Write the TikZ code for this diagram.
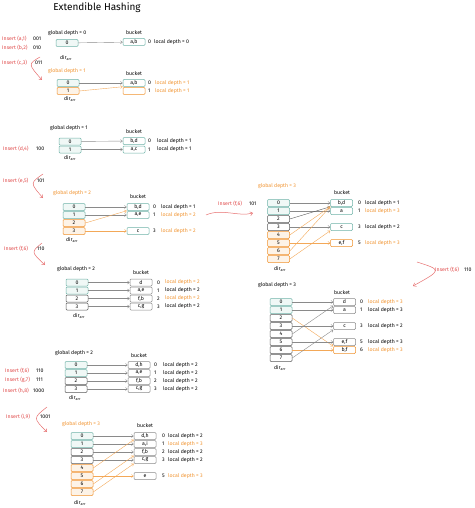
\documentclass[tikz,border=0pt]{standalone}
\usepackage{fontspec}
\setmainfont{Fira Sans}
\usetikzlibrary{arrows.meta}
\definecolor{dirteal}{HTML}{6FB3A8}
\definecolor{dirfill}{HTML}{F0F8F6}
\definecolor{neworange}{HTML}{F0922E}
\definecolor{newfill}{HTML}{FDF3E7}
\definecolor{insred}{HTML}{E04B4B}
\definecolor{ptrgray}{HTML}{8A8A8A}
\definecolor{olddark}{HTML}{5A5A5A}
\begin{document}
\begin{tikzpicture}[x=1pt,y=-1pt,
  every node/.style={inner sep=0pt, font=\fontsize{5.2}{6}\selectfont},
  txt/.style={anchor=west},
  ins/.style={anchor=west, color=insred},
  new/.style={anchor=west, color=neworange},
  dirbox/.style={draw=dirteal, fill=dirfill, rounded corners=1pt, minimum width=22pt, minimum height=7pt, line width=0.5pt},
  dirnew/.style={dirbox, draw=neworange, fill=newfill},
  dirold/.style={dirbox, draw=olddark, fill=white},
  bucket/.style={dirbox, fill=white},
  bucketold/.style={dirbox, draw=ptrgray, fill=white},
  bucketnew/.style={dirbox, draw=neworange, fill=white},
  ptr/.style={draw=ptrgray, line width=0.4pt, -{Straight Barb[length=2pt,width=3pt]}},
  ptrnew/.style={ptr, draw=neworange!80},
  ptrold/.style={ptr, draw=olddark},
  flow/.style={draw=insred!80, line width=0.5pt, -{Straight Barb[length=2.5pt,width=4pt]}}]
  \useasboundingbox (0,0) rectangle (474,508);
  \node[font=\fontsize{10}{11}\selectfont] (title) at (97,8) {Extendible Hashing};
  % step 1
  \node[txt] (G1) at (48,33) {global depth = 0};
  \node[ins] (I1a) at (2,39) {Insert (a,1)};
  \node[txt] (K1a) at (33,39) {001};
  \node[ins] (I1b) at (2,48) {Insert (b,2)};
  \node[txt] (K1b) at (33,48) {010};
  \node[dirbox] (D10) at (67,43) {0};
  \node (R1) at (66,58) {dir\textsubscript{arr}};
  \node (T1) at (134,33) {bucket};
  \node[bucket] (B10) at (134,42) {a,b};
  \node[txt] (N10) at (148,42) {0};
  \node[txt] (L10) at (154,42) {local depth = 0};
  \draw[ptr] (D10) -- (B10);
  % step 2
  \node[ins] (I2) at (2,63) {Insert (c,3)};
  \node[txt] (K2) at (35,63) {011};
  \coordinate (F2a) at (40,57);
  \coordinate (F2b) at (42,80);
  \draw[flow] (F2a) .. controls (28,64) .. (F2b);
  \node[new] (G2) at (48,71) {global depth = 1};
  \node[dirbox] (D20) at (68,83) {0};
  \node[dirnew] (D21) at (68,91) {1};
  \node (R2) at (70,99) {dir\textsubscript{arr}};
  \node (T2) at (134,74) {bucket};
  \node[bucket] (B20) at (134,83) {a,b};
  \node[bucketnew] (B21) at (134,91) {};
  \node[txt] (N20) at (148,83) {0};
  \node[new] (L20) at (155,83) {local depth = 1};
  \node[txt] (N21) at (148,91) {1};
  \node[new] (L21) at (155,91) {local depth = 1};
  \draw[ptr] (D20) -- (B20);
  \draw[ptrnew] (D21.east) -- (B20.south west);
  % step 3
  \node[txt] (G3) at (50,128) {global depth = 1};
  \node[ins] (I3) at (3,149) {Insert (d,4)};
  \node[txt] (K3) at (36,149) {100};
  \node[dirbox] (D30) at (70,141.5) {0};
  \node[dirbox] (D31) at (70,149.5) {1};
  \node (R3) at (70,158) {dir\textsubscript{arr}};
  \node (T3) at (134,132) {bucket};
  \node[bucket] (B30) at (134,141) {b,d};
  \node[bucket] (B31) at (134,149.5) {a,c};
  \node[txt] (N30) at (148,141) {0};
  \node[txt] (L30) at (157,141) {local depth = 1};
  \node[txt] (N31) at (148,149.5) {1};
  \node[txt] (L31) at (157,149.5) {local depth = 1};
  \draw[ptr] (D30) -- (B30);
  \draw[ptr] (D31) -- (B31);
  % step 4
  \node[ins] (I4) at (3,181) {Insert (e,5)};
  \node[txt] (K4) at (37,181) {101};
  \coordinate (F4a) at (43,174);
  \coordinate (F4b) at (43,198);
  \draw[flow] (F4a) .. controls (30,183) .. (F4b);
  \node[new] (G4) at (53,193) {global depth = 2};
  \node (T4) at (138,197) {bucket};
  \node[dirbox] (D40) at (74,207) {0};
  \node[dirbox] (D41) at (74,215) {1};
  \node[dirnew] (D42) at (74,223) {2};
  \node[dirnew] (D43) at (74,231) {3};
  \node (R4) at (72,240) {dir\textsubscript{arr}};
  \node[bucket] (B40) at (138,207) {b,d};
  \node[bucket] (B41) at (138,215) {a,e};
  \node[bucket] (B43) at (138,231) {c};
  \node[txt] (N40) at (153,207) {0};
  \node[txt] (L40) at (161,207) {local depth = 1};
  \node[txt] (N41) at (153,215) {1};
  \node[new] (L41) at (161,215) {local depth = 2};
  \node[txt] (N43) at (153,231) {3};
  \node[new] (L43) at (161,231) {local depth = 2};
  \draw[ptr] (D40) -- (B40);
  \draw[ptr] (D41) -- (B41);
  \draw[ptrnew] (D42.east) -- (B40.south west);
  \draw[ptrnew] (D43) -- (B43);
  % step 5
  \node[ins] (I5) at (4,249) {Insert (f,6)};
  \node[txt] (K5) at (37,249) {110};
  \coordinate (F5a) at (42,243);
  \coordinate (F5b) at (45,265);
  \draw[flow] (F5a) .. controls (31,252) .. (F5b);
  \node[txt] (G5) at (57,269) {global depth = 2};
  \node (T5) at (141,273) {bucket};
  \node[dirbox] (D50) at (77,282.5) {0};
  \node[dirbox] (D51) at (77,290.5) {1};
  \node[dirold] (D52) at (77,298.5) {2};
  \node[dirold] (D53) at (77,306.5) {3};
  \node (R5) at (79,316) {dir\textsubscript{arr}};
  \node[bucketold] (B50) at (141,282.5) {d};
  \node[bucketold] (B51) at (141,290.5) {a,e};
  \node[bucketold] (B52) at (141,298.5) {f,b};
  \node[bucketold] (B53) at (141,306.5) {c,g};
  \node[txt] (N50) at (157,282.5) {0};
  \node[new] (L50) at (165,282.5) {local depth = 2};
  \node[txt] (N51) at (157,290.5) {1};
  \node[txt] (L51) at (165,290.5) {local depth = 2};
  \node[txt] (N52) at (157,298.5) {2};
  \node[new] (L52) at (165,298.5) {local depth = 2};
  \node[txt] (N53) at (157,306.5) {3};
  \node[txt] (L53) at (165,306.5) {local depth = 2};
  \draw[ptr] (D50) -- (B50);
  \draw[ptr] (D51) -- (B51);
  \draw[ptr] (D52) -- (B52);
  \draw[ptr] (D53) -- (B53);
  % step 6
  \node[txt] (G6) at (55,353) {global depth = 2};
  \node[ins] (I6a) at (5,371) {Insert (f,6)};
  \node[txt] (K6a) at (36,371) {110};
  \node[ins] (I6b) at (5,380) {Insert (g,7)};
  \node[txt] (K6b) at (36,380) {111};
  \node[ins] (I6c) at (3,391) {Insert (h,8)};
  \node[txt] (K6c) at (33,391) {1000};
  \node (T6) at (139,356) {bucket};
  \node[dirbox] (D60) at (76,365) {0};
  \node[dirbox] (D61) at (76,373) {1};
  \node[dirold] (D62) at (76,381) {2};
  \node[dirold] (D63) at (76,389) {3};
  \node (R6) at (75,398) {dir\textsubscript{arr}};
  \node[bucketold] (B60) at (139,365) {d,h};
  \node[bucketold] (B61) at (139,373) {a,e};
  \node[bucketold] (B62) at (139,381) {f,b};
  \node[bucketold] (B63) at (139,389) {c,g};
  \node[txt] (N60) at (154,365) {0};
  \node[txt] (L60) at (163,365) {local depth = 2};
  \node[txt] (N61) at (154,373) {1};
  \node[txt] (L61) at (163,373) {local depth = 2};
  \node[txt] (N62) at (154,381) {2};
  \node[txt] (L62) at (163,381) {local depth = 2};
  \node[txt] (N63) at (154,389) {3};
  \node[txt] (L63) at (163,389) {local depth = 2};
  \draw[ptr] (D60) -- (B60);
  \draw[ptr] (D61) -- (B61);
  \draw[ptr] (D62) -- (B62);
  \draw[ptr] (D63) -- (B63);
  % step 7
  \node[ins] (I7) at (6,417) {Insert (i,9)};
  \node[txt] (K7) at (40,417) {1001};
  \coordinate (F7a) at (47,407);
  \coordinate (F7b) at (47,432);
  \draw[flow] (F7a) .. controls (33,418) .. (F7b);
  \node[new] (G7) at (62,424) {global depth = 3};
  \node (T7) at (145,426) {bucket};
  \node[dirbox] (D70) at (82,436) {0};
  \node[dirbox] (D71) at (82,444) {1};
  \node[dirold] (D72) at (82,452) {2};
  \node[dirold] (D73) at (82,460) {3};
  \node[dirnew] (D74) at (82,468) {4};
  \node[dirnew] (D75) at (82,476) {5};
  \node[dirnew] (D76) at (82,484) {6};
  \node[dirnew] (D77) at (82,492) {7};
  \node (R7) at (80,503) {dir\textsubscript{arr}};
  \node[bucketold] (B70) at (145,436) {d,h};
  \node[bucketold] (B71) at (145,444) {a,i};
  \node[bucketold] (B72) at (145,452) {f,b};
  \node[bucketold] (B73) at (145,460) {c,g};
  \node[bucketold] (B75) at (145,476) {e};
  \node[txt] (N70) at (162,436) {0};
  \node[txt] (L70) at (168,436) {local depth = 2};
  \node[txt] (N71) at (162,444) {1};
  \node[new] (L71) at (168,444) {local depth = 3};
  \node[txt] (N72) at (162,452) {2};
  \node[txt] (L72) at (168,452) {local depth = 2};
  \node[txt] (N73) at (162,460) {3};
  \node[txt] (L73) at (168,460) {local depth = 2};
  \node[txt] (N75) at (162,476) {5};
  \node[new] (L75) at (168,476) {local depth = 3};
  \draw[ptr] (D70) -- (B70);
  \draw[ptr] (D71) -- (B71);
  \draw[ptr] (D72) -- (B72);
  \draw[ptr] (D73) -- (B73);
  \draw[ptrnew] (D74.east) -- (B70.south west);
  \draw[ptrnew] (D75) -- (B75);
  \draw[ptrnew] (D76.east) -- (B72.south west);
  \draw[ptrnew] (D77.east) -- (B73.south west);
  % right, step 8
  \node[ins] (I8) at (218,204) {Insert (f,6)};
  \node[txt] (K8) at (249,204) {101};
  \coordinate (F8a) at (206,215);
  \coordinate (F8b) at (253,213);
  \draw[flow] (F8a) .. controls (222,208) and (238,217) .. (F8b);
  \node[new] (G8) at (258,186) {global depth = 3};
  \node (T8) at (342,193) {bucket};
  \node[dirbox] (D80) at (278.5,203) {0};
  \node[dirbox] (D81) at (278.5,211) {1};
  \node[dirold] (D82) at (278.5,219) {2};
  \node[dirold] (D83) at (278.5,227) {3};
  \node[dirnew] (D84) at (278.5,235) {4};
  \node[dirnew] (D85) at (278.5,243) {5};
  \node[dirnew] (D86) at (278.5,251) {6};
  \node[dirnew] (D87) at (278.5,259) {7};
  \node (R8) at (280,269) {dir\textsubscript{arr}};
  \node[bucket] (B80) at (341.5,203) {b,d};
  \node[bucket] (B81) at (341.5,211) {a};
  \node[bucket] (B83) at (341.5,227) {c};
  \node[bucketnew] (B85) at (341.5,243) {e,f};
  \node[txt] (N80) at (358,203) {0};
  \node[txt] (L80) at (365,203) {local depth = 1};
  \node[txt] (N81) at (358,211) {1};
  \node[new] (L81) at (365,211) {local depth = 3};
  \node[txt] (N83) at (358,227) {3};
  \node[txt] (L83) at (365,227) {local depth = 2};
  \node[txt] (N85) at (358,243) {5};
  \node[new] (L85) at (365,243) {local depth = 3};
  \draw[ptr] (D80) -- (B80);
  \draw[ptr] (D81) -- (B81);
  \draw[ptrold] (D82.east) -- (B80.south west);
  \draw[ptr] (D83) -- (B83);
  \draw[ptrnew] (D84.east) -- (B80.south west);
  \draw[ptrnew] (D85) -- (B85);
  \draw[ptrnew] (D86.east) -- (B80.south west);
  \draw[ptrnew] (D87.east) -- (B83.south west);
  % right, step 9
  \coordinate (F9a) at (417,262);
  \coordinate (F9b) at (413,286);
  \draw[flow] (F9a) .. controls (442,270) .. (F9b);
  \node[ins] (I9) at (435,270) {Insert (f,6)};
  \node[txt] (K9) at (464,270) {110};
  \node[txt] (G9) at (258,285) {global depth = 3};
  \node (T9) at (342,293) {bucket};
  \node[dirbox] (D90) at (281,302) {0};
  \node[dirbox] (D91) at (281,310) {1};
  \node[dirold] (D92) at (281,318) {2};
  \node[dirold] (D93) at (281,326) {3};
  \node[dirold] (D94) at (281,334) {4};
  \node[dirold] (D95) at (281,342) {5};
  \node[dirold] (D96) at (281,350) {6};
  \node[dirold] (D97) at (281,358) {7};
  \node (R9) at (280,368) {dir\textsubscript{arr}};
  \node[bucketold] (B90) at (344.5,302) {d};
  \node[bucketold] (B91) at (344.5,310) {a};
  \node[bucketold] (B93) at (344.5,326) {c};
  \node[bucketold] (B95) at (344.5,342) {e,f};
  \node[bucketnew] (B96) at (344.5,350) {b,f};
  \node[txt] (N90) at (360,302) {0};
  \node[new] (L90) at (368,302) {local depth = 3};
  \node[txt] (N91) at (360,310) {1};
  \node[txt] (L91) at (368,310) {local depth = 3};
  \node[txt] (N93) at (360,326) {3};
  \node[txt] (L93) at (368,326) {local depth = 2};
  \node[txt] (N95) at (360,342) {5};
  \node[txt] (L95) at (368,342) {local depth = 3};
  \node[txt] (N96) at (360,350) {6};
  \node[new] (L96) at (368,350) {local depth = 3};
  \draw[ptr] (D90) -- (B90);
  \draw[ptr] (D91) -- (B91);
  \draw[ptrnew] (D92.east) -- (B96.north west);
  \draw[ptr] (D93) -- (B93);
  \draw[ptr] (D94.east) -- (B90.south west);
  \draw[ptr] (D95) -- (B95);
  \draw[ptrnew] (D96) -- (B96);
  \draw[ptr] (D97.east) -- (B93.south west);
\end{tikzpicture}
\end{document}
